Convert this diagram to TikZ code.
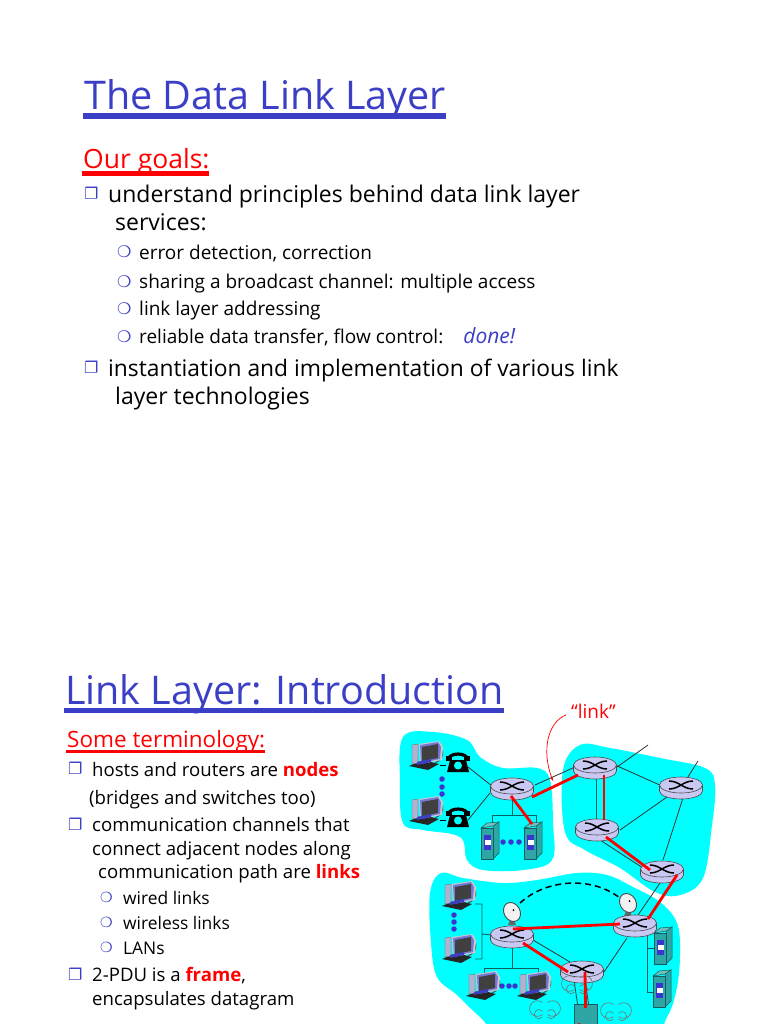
\documentclass[tikz,border=0pt]{standalone}
\usepackage{fontspec}
\usepackage{xcolor}
\usepackage{tikz}
\setmainfont{Open Sans}
\newfontfamily\symfont{DejaVu Sans}
\usetikzlibrary{calc,positioning,arrows.meta}
\definecolor{ink}{HTML}{000000}
\definecolor{navy}{HTML}{3A3FC6}
\definecolor{alert}{HTML}{FF0000}
\definecolor{aqua}{HTML}{00FFFF}
\definecolor{lilac}{HTML}{C8C8F2}
\definecolor{teal}{HTML}{2FA6A6}
\definecolor{tealdk}{HTML}{0F5F5F}
\definecolor{dotblue}{HTML}{3A35D0}
\newcommand{\fsz}[1]{\fontsize{#1}{#1}\selectfont}
\tikzset{
  ttl/.style={anchor=base west, inner sep=0pt, text=navy, font=\fsz{39.5}},
  head/.style={anchor=base west, inner sep=0pt, text=alert, font=\fsz{26.5}},
  headb/.style={anchor=base west, inner sep=0pt, text=alert, font=\fsz{22.5}},
  txt/.style={anchor=base west, inner sep=0pt, text=ink, font=\fsz{23}},
  sub/.style={anchor=base west, inner sep=0pt, text=ink, font=\fsz{19}},
  txtb/.style={anchor=base west, inner sep=0pt, text=ink, font=\fsz{18.6}},
  subb/.style={anchor=base west, inner sep=0pt, text=ink, font=\fsz{17.4}},
  boxb/.style={anchor=base west, inner sep=0pt, text=navy, font=\symfont\fsz{16}},
  rndb/.style={anchor=base west, inner sep=0pt, text=navy, font=\symfont\fsz{16}},
  rbox/.style={rectangle, minimum width=43pt, minimum height=22pt, inner sep=0pt},
  wire/.style={draw=ink!80, line width=0.8pt},
  cable/.style={draw=tealdk, line width=0.9pt},
  hot/.style={draw=alert, line width=2.8pt},
  blob/.style={fill=aqua, draw=none},
  ddot/.style={circle, fill=dotblue, inner sep=0pt, minimum size=5.5pt},
  router/.pic={
    \path[fill=lilac, draw=ink!70, line width=0.6pt] (-21.5,-3) -- (-21.5,3) arc[start angle=180, end angle=360, x radius=21.5, y radius=-8] -- (21.5,-3) -- cycle;
    \path[fill=lilac, draw=ink!70, line width=0.6pt] (0,-3) ellipse[x radius=21.5, y radius=8];
    \draw[ink, line width=1.5pt] (-12,-7) .. controls (-2,-7) and (2,1) .. (12,1);
    \draw[ink, line width=1.5pt] (12,-7) .. controls (2,-7) and (-2,1) .. (-12,1);
  },
  computer/.pic={
    \fill[ink!85] (-16,11) -- (-2,5) -- (14,9) -- (3,15) -- cycle;
    \fill[lilac!70!gray, draw=ink!60, line width=0.3pt] (-13,-10) -- (-7,-11) -- (-7,8) -- (-13,9) -- cycle;
    \draw[ink!70, line width=1pt] (14,-10) .. controls (20,-4) and (19,4) .. (10,8);
    \fill[ink!20] (-6,-11) -- (14,-14) -- (18,-8) -- (17,5) -- (-5,9) -- cycle;
    \fill[navy!70] (-5,-10) -- (13,-13) -- (16,-8) -- (15,4) -- (-4,8) -- cycle;
    \fill[ink!75] (-3,-8) -- (13,-11) -- (13,3) -- (-3,6) -- cycle;
    \fill[navy] (-8,7) -- (6,4) -- (6,7) -- (-8,10) -- cycle;
  },
  phone/.pic={
    \fill[ink] (-8,-2) -- (8,-2) -- (11,10) -- (-11,10) -- cycle;
    \fill[aqua] (0,3.5) circle[radius=4];
    \draw[ink, line width=3.2pt] (-10,-2) .. controls (-9,-10) and (9,-10) .. (10,-2);
    \fill[ink] (-12,-6) rectangle (-6,-1);
    \fill[ink] (6,-6) rectangle (12,-1);
  },
  server/.pic={
    \fill[teal, draw=tealdk, line width=0.5pt] (3,-16) -- (9,-20) -- (9,11) -- (3,17) -- cycle;
    \fill[teal!70!white, draw=tealdk, line width=0.5pt] (-9,-14) -- (-3,-19) -- (9,-20) -- (3,-16) -- cycle;
    \fill[teal, draw=tealdk, line width=0.5pt] (-9,-14) rectangle (3,17);
    \fill[dotblue] (-6,-7) rectangle (1,8);
    \fill[white] (-5,-2) rectangle (1,3);
  },
  dish/.pic={
    \fill[ink!60] (-4,13) -- (0,4) -- (4,13) -- cycle;
    \fill[ink!5, draw=ink!70, line width=0.9pt, rotate=30] (0,0) ellipse[x radius=8, y radius=10];
    \fill[ink] (1.5,-2) circle[radius=1];
  },
  waves/.pic={
    \draw[ink!55, line width=0.6pt] (-2,-3) arc[start angle=40, end angle=320, radius=3.5];
    \draw[ink!55, line width=0.6pt] (-2,-5) arc[start angle=50, end angle=310, radius=6];
    \draw[ink!55, line width=0.6pt] (2,-3) arc[start angle=140, end angle=-140, radius=3.5];
    \draw[ink!55, line width=0.6pt] (2,-5) arc[start angle=130, end angle=-130, radius=6];
  },
}
\begin{document}
\begin{tikzpicture}[x=1pt,y=-1pt]
\useasboundingbox (0,0) rectangle (768,1024);
\clip (0,0) rectangle (768,1024);
\fill[white] (0,0) rectangle (768,1024);
% upper slide
\node[ttl] (titleA) at (84,110) {The Data Link Layer};
\fill[navy] (83,113) rectangle (446,119);
\node[head] (goals) at (83,169) {Our goals:};
\fill[alert] (82,171) rectangle (209,176);
\node[boxb] (bA) at (84,200) {❐};
\node[txt] (lA) at (108,203) {understand principles behind data link layer};
\node[txt] (lB) at (115,231) {services:};
\node[rndb] (cA) at (117,258) {❍};
\node[sub] (lC) at (139,259) {error detection, correction};
\node[rndb] (cB) at (117,287) {❍};
\node[sub] (lD) at (139,288) {sharing a broadcast channel: multiple access};
\node[rndb] (cC) at (117,314) {❍};
\node[sub] (lE) at (139,315) {link layer addressing};
\node[rndb] (cD) at (117,342) {❍};
\node[sub] (lF) at (139,343) {reliable data transfer, flow control:\hspace{20pt}\textcolor{navy}{\fsz{21}\textit{done!}}};
\node[boxb] (bB) at (84,373) {❐};
\node[txt, font=\fsz{22.8}] (lG) at (108,376) {instantiation and implementation of various link};
\node[txt] (lH) at (115,404) {layer technologies};
% lower slide
\node[ttl] (titleB) at (65,704) {Link Layer: Introduction};
\fill[navy] (64,708) rectangle (504,713);
\node[headb] (terms) at (67,747) {Some terminology:};
\fill[alert] (66,750) rectangle (265,753);
\node[boxb] (bC) at (68,774) {❐};
\node[txtb] (mA) at (92,776) {hosts and routers are \textcolor{alert}{\textbf{nodes}}};
\node[txtb] (mB) at (89,804) {(bridges and switches too)};
\node[boxb] (bD) at (68,830) {❐};
\node[txtb] (mC) at (92,831) {communication channels that};
\node[txtb] (mD) at (92,855) {connect adjacent nodes along};
\node[txtb] (mE) at (98,878) {communication path are \textcolor{alert}{\textbf{links}}};
\node[rndb, font=\symfont\fsz{14}] (cE) at (100,902) {❍};
\node[subb] (mF) at (123,904) {wired links};
\node[rndb, font=\symfont\fsz{14}] (cF) at (100,927) {❍};
\node[subb] (mG) at (123,929) {wireless links};
\node[rndb, font=\symfont\fsz{14}] (cG) at (100,952) {❍};
\node[subb] (mH) at (123,954) {LANs};
\node[boxb] (bE) at (68,980) {❐};
\node[txtb] (mI) at (92,981) {2-PDU is a \textcolor{alert}{\textbf{frame}},};
\node[txtb] (mJ) at (92,1005) {encapsulates datagram};
% clouds
\fill[blob] plot[smooth cycle, tension=0.6] coordinates {(403,737) (433,732) (467,740) (480,757) (503,768) (537,768) (550,780) (553,823) (552,860) (523,870) (483,870) (467,860) (460,837) (423,830) (403,823) (400,783)};
\fill[blob] plot[smooth cycle, tension=0.6] coordinates {(563,770) (580,745) (610,748) (660,758) (705,768) (715,785) (712,825) (703,878) (680,895) (655,892) (620,868) (585,850) (565,832)};
\fill[blob] plot[smooth cycle, tension=0.6] coordinates {(441,873) (463,878) (503,883) (537,880) (577,873) (607,875) (633,887) (660,902) (677,923) (680,953) (677,987) (667,1017) (640,1050) (520,1050) (480,1017) (457,995) (437,977) (431,943) (430,893)};
% nodes
\foreach \rname/\rpos in {rA/{512,789}, rB/{595,768}, rC/{681,788}, rD/{597,830}, rE/{662,872}, rF/{512,937}, rG/{635,926}, rH/{582,972}}
  \node[rbox] (\rname) at (\rpos) {};
\coordinate (stubA) at (648,745);
\coordinate (stubB) at (698,761);
\node[rbox, minimum width=23pt, minimum height=20pt] (boxW) at (585.5,1014) {};
% thin links
\draw[wire] ([shift={(-20,-3)}]rA.center) -- (468,767);
\draw[wire] ([shift={(-22,4)}]rA.center) -- (468,820);
\draw[wire] ([shift={(23,-4)}]rA.center) -- ([shift={(-20,-1)}]rB.center);
\draw[wire] ([shift={(22,-1)}]rB.center) -- (stubA);
\draw[wire] ([shift={(20,-3)}]rB.center) -- ([shift={(-19,-2)}]rC.center);
\draw[wire] (rC.center) -- (stubB);
\draw[cable] ([shift={(1,8)}]rB.center) -- ([shift={(-1,-8)}]rD.center);
\draw[wire] ([shift={(-14,9)}]rC.center) -- ([shift={(23,0)}]rD.center);
\draw[wire] ([shift={(2,10)}]rC.center) -- ([shift={(1,-12)}]rE.center);
\draw[wire] ([shift={(3,10)}]rD.center) -- ([shift={(-19,-4)}]rE.center);
\draw[wire] ([shift={(-2,11)}]rE.center) -- ([shift={(3,-11)}]rG.center);
\draw[wire] ([shift={(-8,12)}]rG.center) -- ([shift={(22,0)}]rH.center);
\draw[wire] ([shift={(21,3)}]rF.center) -- ([shift={(-12,-10)}]rH.center);
\draw[cable] ([shift={(-8,8)}]rH.center) -- ([shift={(-8,-10)}]boxW.center);
\draw[cable] ([shift={(3,8)}]rH.center) -- ([shift={(3,-10)}]boxW.center);
% tree wiring
\draw[cable] (rA.center) -- ++(0,26) (492,815) -- (492,825) (492,815) -- (536,815) -- (536,824);
\draw[cable] (482,904) -- (482,959) (482,904) -- (475,904) (482,959) -- (475,959) (482,934) -- (rF.center);
\draw[cable] (rF.center) -- (512,968) (484,968) -- (538,968) (484,968) -- (484,975) (538,968) -- (538,975);
\draw[cable] ([shift={(12,0)}]rG.center) -- (647,992) -- (654,992) (647,948) -- (654,948);
% machines
\pic at (425,755) {computer};
\pic at (425,810) {computer};
\pic at (458,762) {phone};
\pic at (458,817) {phone};
\draw[cable, draw=ink] (440,765) -- (446,765) (440,820) -- (446,820);
\pic at (490,842) {server};
\pic at (533,842) {server};
\pic at (458,895) {computer};
\pic at (458,948) {computer};
\pic at (482,985) {computer};
\pic at (533,985) {computer};
\pic at (663,947) {server};
\pic at (662,990) {server};
\pic at (512,912) {dish};
\pic at (628,903) {dish};
\draw[draw=ink, line width=1.5pt, dash pattern=on 6pt off 4pt] (520,903) .. controls (545,880) and (590,875) .. (620,898);
% dots
\foreach \py in {779,787,794} \node[ddot] (dA\py) at (442,\py) {};
\foreach \px in {503,511,519} \node[ddot] (dB\px) at (\px,842) {};
\foreach \py in {915,922,929} \node[ddot] (dC\py) at (454,\py) {};
\foreach \px in {502,509,515} \node[ddot] (dD\px) at (\px,986) {};
% routers on top
\foreach \rname in {rA,rB,rC,rD,rE,rF,rG,rH}
  \pic at (\rname) {router};
\fill[teal, draw=tealdk, line width=0.5pt] (boxW.north west) rectangle (boxW.south east);
\pic[scale=1.3] at (577,996) {waves};
\pic[scale=1.3] at (545,1021) {waves};
\pic[scale=1.3] at (616,1023) {waves};
% red links
\draw[hot] ([shift={(20,8)}]rA.center) -- ([shift={(-17,7)}]rB.center);
\draw[hot] ([shift={(-1,7)}]rA.center) -- (532,824);
\draw[hot] ([shift={(9,7)}]rB.center) -- ([shift={(7,-10)}]rD.center);
\draw[hot] ([shift={(9,7)}]rD.center) -- ([shift={(-12,-2)}]rE.center);
\draw[hot] ([shift={(15,3)}]rE.center) -- ([shift={(13,-7)}]rG.center);
\draw[hot] ([shift={(1,-8)}]rF.center) -- ([shift={(-15,-2)}]rG.center);
\draw[hot] ([shift={(11,6)}]rF.center) -- ([shift={(-14,0)}]rH.center);
\draw[hot] ([shift={(3,0)}]rH.center) -- ([shift={(0,-6)}]boxW.center);
\draw[hot] ([shift={(-5,10)}]boxW.center) -- ([shift={(-18,16)}]boxW.center);
% link label
\node[anchor=base west, inner sep=0pt, text=alert, font=\fsz{19}] (linkL) at (571,718) {``link''};
\coordinate (linkT) at (553,781);
\draw[alert, line width=0.7pt, -{Stealth[length=4pt,width=3pt]}] (566,715) .. controls (548,722) and (541,750) .. (linkT);
\end{tikzpicture}
\end{document}
